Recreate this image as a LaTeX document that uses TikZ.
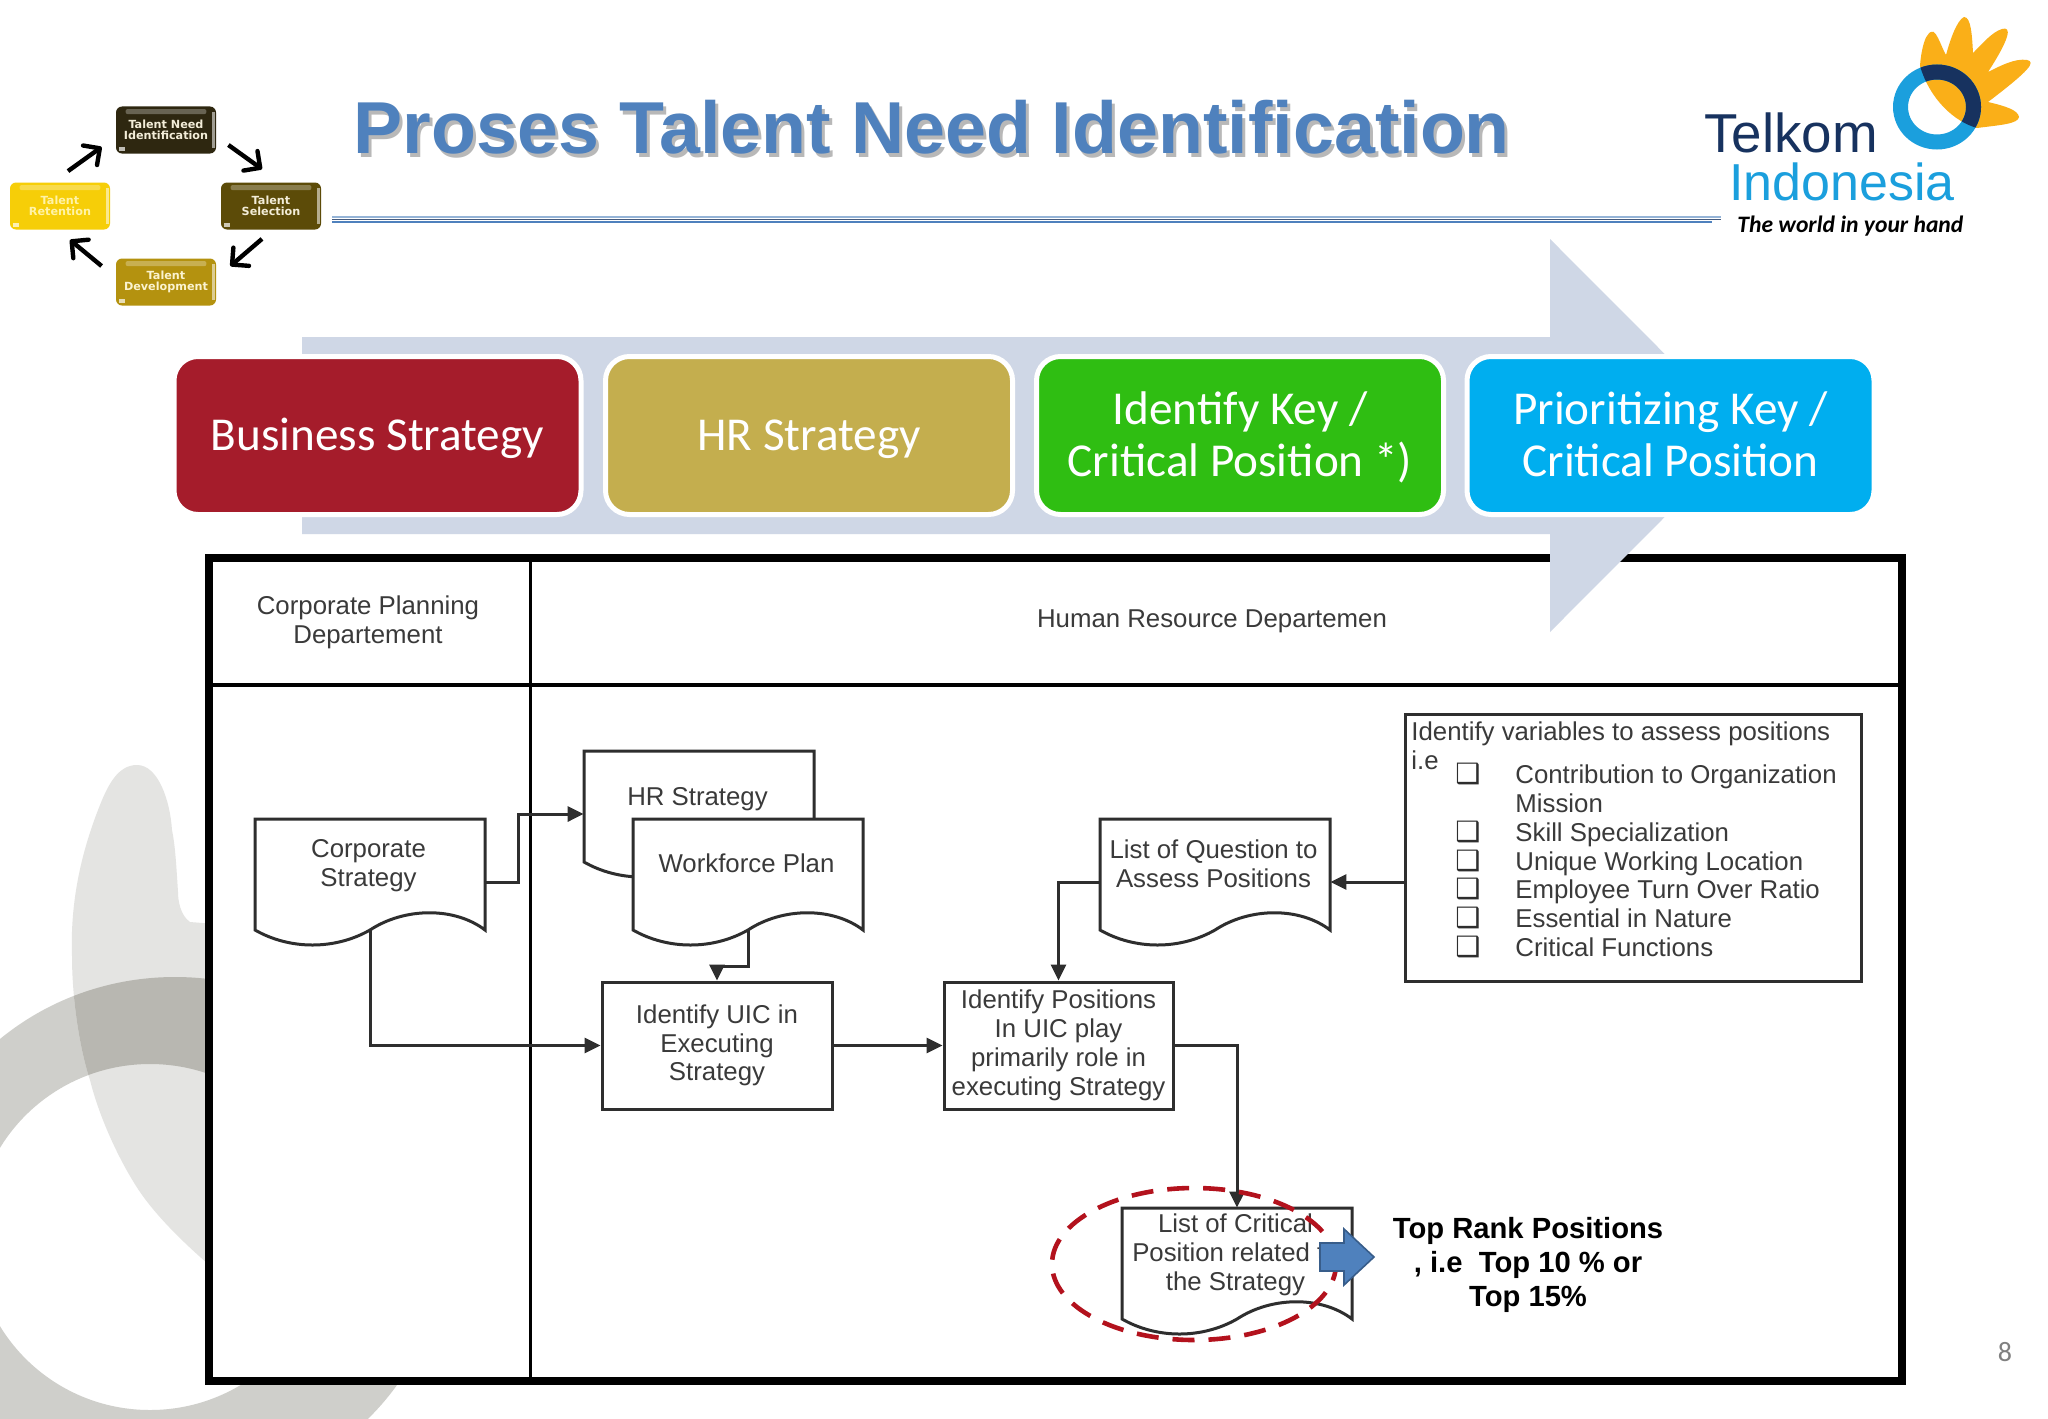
\documentclass[tikz,border=0pt]{standalone}
\usepackage{fontspec}
\usetikzlibrary{arrows.meta,shapes.geometric,calc}
\setmainfont{Liberation Sans}
\newfontfamily\carl{Carlito}
\newfontfamily\dvs{DejaVu Sans}
\newcommand{\sttop}{\rule[-7.8pt]{0pt}{31pt}}
\definecolor{ringgray}{HTML}{CFCFCB}
\definecolor{blobgray}{HTML}{E4E4E2}
\definecolor{overgray}{HTML}{B8B7B1}
\definecolor{arrowfill}{HTML}{CFD7E6}
\definecolor{titleblue}{HTML}{4F81BD}
\definecolor{inktext}{HTML}{3A3A3A}
\definecolor{inkline}{HTML}{2E2E2E}
\definecolor{sunorange}{HTML}{FAAF18}
\definecolor{ringblue}{HTML}{1B9FDD}
\definecolor{ringnavy}{HTML}{17325F}
\definecolor{cneed}{HTML}{2E2710}
\definecolor{csel}{HTML}{5C4B08}
\definecolor{cdev}{HTML}{B4920F}
\definecolor{cret}{HTML}{F6CE08}
\definecolor{tdark}{HTML}{F3EDD8}
\definecolor{tdev}{HTML}{FBF3CF}
\definecolor{tret}{HTML}{FFF3A8}
\definecolor{cs1}{HTML}{A51C2B}
\definecolor{cs2}{HTML}{C4AE4E}
\definecolor{cs3}{HTML}{2FBE12}
\definecolor{cs4}{HTML}{00AEEF}
\definecolor{hlred}{HTML}{B3121D}
\definecolor{bfill}{HTML}{4F81BD}
\definecolor{bedge}{HTML}{385D8A}
\tikzset{
  x=0.5pt,y=-0.5pt,
  flow/.style={draw=inkline,line width=1.5pt,-{Triangle[length=8pt,width=7.5pt]}},
  plainbox/.style={draw=inkline,line width=1.5pt,fill=white,inner sep=0pt,align=center,text=inktext,font=\fontsize{12.9}{14.4}\selectfont},
  diagtext/.style={inner sep=0pt,align=center,text=inktext,font=\fontsize{12.9}{14.4}\selectfont},
  listtext/.style={inner sep=0pt,anchor=base west,text=inktext,font=\fontsize{12.9}{14.4}\selectfont},
  checkmark/.style={inner sep=0pt,anchor=base,text=inkline,font=\dvs\fontsize{14}{14}\selectfont},
  stage/.style={rounded corners=12pt,draw=white,line width=2.5pt,inner sep=0pt,minimum width=203.5pt,minimum height=79pt,align=center,text=white,font=\carl\fontsize{23.6}{26}\selectfont},
  cyc/.style={line width=2.2pt,black,-{Straight Barb[length=6pt,width=12pt,round]}},
  mini/.style={rounded corners=3pt,inner sep=0pt,minimum width=50pt,minimum height=23.5pt,align=center,font=\dvs\bfseries\fontsize{5.6}{6}\selectfont},
}
% name, left, top, text offset, text
\newcommand{\docnode}[5]{%
  \begin{scope}[shift={(#2,#3)}]
    \draw[draw=inkline,line width=1.5pt,fill=white,line join=miter]
      (0,0) -- (230,0) -- (230,111)
      .. controls (200,88) and (150,88) .. (115,111)
      .. controls (80,131) and (35,131) .. (0,111) -- cycle;
    \node[minimum width=115pt,minimum height=63pt,inner sep=0pt] (#1) at (115,63) {};
    \coordinate (#1-out) at (115,111);
    \node[diagtext] (#1-t) at (113.5,#4) {#5};
  \end{scope}}
\newcommand{\minibox}[6]{%
  \node[mini,fill=#4,text=#5] (#1) at (#2,#3) {#6};
  \fill[white,opacity=.28,rounded corners=1pt] ([xshift=5pt,yshift=-1.5pt]#1.north west) rectangle ([xshift=-5pt,yshift=-4pt]#1.north east);
  \fill[white,opacity=.55] ([xshift=-2pt,yshift=-3pt]#1.north east) rectangle ([xshift=-.6pt,yshift=3pt]#1.south east);
  \fill[white,opacity=.7] ([xshift=1.5pt,yshift=1.5pt]#1.south west) rectangle ([xshift=4.5pt,yshift=3.5pt]#1.south west);
}
\begin{document}
\begin{tikzpicture}
\useasboundingbox (0,0) rectangle (2048,1418);
\fill[white] (0,0) rectangle (2048,1418);
% background artwork
\begin{scope}
  \clip (0,0) rectangle (2048,1418);
  \fill[ringgray,even odd rule] (175,1237) ellipse [x radius=270,y radius=260] (150,1237) ellipse [x radius=175,y radius=173];
  \def\blobpath{(137,765) .. controls (118,765) and (108,785) .. (100,805)
    .. controls (82,850) and (70,900) .. (72,956)
    .. controls (72,1000) and (80,1050) .. (90,1080)
    .. controls (100,1120) and (120,1160) .. (133,1181)
    .. controls (150,1210) and (180,1240) .. (215,1270)
    -- (215,924) -- (190,922)
    .. controls (180,915) and (178,900) .. (178,892)
    .. controls (176,860) and (175,845) .. (172,830)
    .. controls (170,800) and (158,765) .. (137,765) -- cycle}
  \fill[blobgray] \blobpath;
  \begin{scope}
    \clip \blobpath;
    \fill[overgray,even odd rule] (175,1237) ellipse [x radius=270,y radius=260] (150,1237) ellipse [x radius=175,y radius=173];
  \end{scope}
\end{scope}
% title
\node[anchor=base west,inner sep=0pt,text=black!28,font=\bfseries\fontsize{36.8}{40}\selectfont] at (356.5,157) {Proses Talent Need Identification};
\node[anchor=base west,inner sep=0pt,text=titleblue,font=\bfseries\fontsize{36.8}{40}\selectfont] (title) at (353.5,154) {Proses Talent Need Identification};
\draw[titleblue!60,line width=1pt] (332,217) -- (1721,217);
\draw[ringnavy!80,line width=.8pt] (332,219.5) -- (1721,219.5);
\draw[titleblue,line width=.8pt] (332,222) -- (1712,222);
% logo
\def\sunpath{(1920,66) .. controls (1921,50) and (1925,38) .. (1927,36)
  .. controls (1932,28) and (1935,32) .. (1938,38)
  .. controls (1941,44) and (1944,52) .. (1946,55)
  .. controls (1950,40) and (1957,20) .. (1964,17)
  .. controls (1971,17) and (1972,35) .. (1973,53)
  .. controls (1982,44) and (1992,32) .. (2002,29)
  .. controls (2012,26) and (2010,38) .. (1988,72)
  .. controls (2000,66) and (2015,58) .. (2027,60)
  .. controls (2036,62) and (2030,70) .. (1988,102)
  .. controls (2005,106) and (2018,110) .. (2019,117)
  .. controls (2018,124) and (2000,125) .. (1977,128)
  .. controls (1955,122) and (1930,100) .. (1920,66) -- cycle}
\fill[sunorange] \sunpath;
\draw[ringblue,line width=7.5pt] (1937,107) ellipse [x radius=36.5,y radius=35];
\begin{scope}
  \clip \sunpath;
  \draw[ringnavy,line width=7.5pt] (1937,107) ellipse [x radius=36.5,y radius=35];
\end{scope}
\node[anchor=base west,inner sep=0pt,text=ringnavy,font=\fontsize{27.4}{28}\selectfont] (telkom) at (1704,152) {Telkom};
\node[anchor=base west,inner sep=0pt,text=ringblue,font=\fontsize{26}{28}\selectfont] (indo) at (1729,200) {Indonesia};
\node[anchor=base west,inner sep=0pt,text=black,font=\carl\bfseries\itshape\fontsize{11.8}{13}\selectfont] (world) at (1737,232) {The world in your hand};
% mini cycle
\minibox{need}{166}{130}{cneed}{tdark}{Talent Need\\[-.4pt]Identification}
\minibox{sel}{271}{206}{csel}{tdark}{Talent\\[-.4pt]Selection}
\minibox{dev}{166}{282}{cdev}{tdev}{Talent\\[-.4pt]Development}
\minibox{ret}{60}{206}{cret}{tret}{Talent\\[-.4pt]Retention}
\draw[cyc] ([xshift=4pt,yshift=5.5pt]ret.north) -- ([xshift=-7pt,yshift=-8.5pt]need.west);
\draw[cyc] ([xshift=6pt,yshift=-7.5pt]need.east) -- ([xshift=-4.5pt,yshift=6.5pt]sel.north);
\draw[cyc] ([xshift=-4.5pt,yshift=-4.5pt]sel.south) -- ([xshift=7pt,yshift=8pt]dev.east);
\draw[cyc] ([xshift=-7pt,yshift=8pt]dev.west) -- ([xshift=5pt,yshift=-5pt]ret.south);
% swimlane frame
\draw[black,line width=4pt,fill=white] (209,558) rectangle (1902,1381);
\draw[black,line width=1.5pt] (530,558) -- (530,1381);
\draw[black,line width=2pt] (209,685) -- (1902,685);
% big arrow
\fill[arrowfill] (302,337) -- (1550,337) -- (1550,239) -- (1746,435.5) -- (1550,632) -- (1550,534) -- (302,534) -- cycle;
% stages
\node[stage,fill=cs1] (s1) at (377.5,435.5) {\sttop Business Strategy};
\node[stage,fill=cs2] (s2) at (809,435.5) {\sttop HR Strategy};
\node[stage,fill=cs3] (s3) at (1240,435.5) {\sttop Identify Key /\\\strut Critical Position *)};
\node[stage,fill=cs4] (s4) at (1670.5,435.5) {\sttop Prioritizing Key /\\\strut Critical Position};
% lane titles
\node[diagtext] (lane1) at (368,622) {Corporate Planning\\Departement};
\node[diagtext] (lane2) at (1212,621) {Human Resource Departemen};
% documents
\docnode{corp}{255}{819}{47}{Corporate\\Strategy}
\docnode{hrs}{584}{751}{48}{HR Strategy}
\docnode{wf}{633}{819}{44}{Workforce Plan}
\docnode{ques}{1100}{819}{45}{List of Question to\\Assess Positions}
\docnode{crit}{1122}{1208}{47}{List of Critical\\Position related to\\the Strategy}
% process boxes
\node[plainbox,minimum width=115pt,minimum height=63.5pt] (uic) at (717,1045.5) {Identify UIC in\\Executing\\Strategy};
\node[plainbox,minimum width=114.5pt,minimum height=63.5pt] (pos) at (1058.5,1045.5) {Identify Positions\\In UIC play\\primarily role in\\executing Strategy};
\node[draw=inkline,line width=1.5pt,fill=white,inner sep=0pt,minimum width=228pt,minimum height=133.5pt] (vars) at (1633,847.5) {};
\node[listtext] (v0) at (1411,740) {Identify variables to assess positions};
\node[listtext] (v00) at (1411,769) {i.e};
\node[checkmark] (c1) at (1468,783) {❑};
\node[listtext] (v1) at (1515,783) {Contribution to Organization};
\node[listtext] (v1b) at (1515,812) {Mission};
\node[checkmark] (c2) at (1468,841) {❑};
\node[listtext] (v2) at (1515,841) {Skill Specialization};
\node[checkmark] (c3) at (1468,870) {❑};
\node[listtext] (v3) at (1515,870) {Unique Working Location};
\node[checkmark] (c4) at (1468,898) {❑};
\node[listtext] (v4) at (1515,898) {Employee Turn Over Ratio};
\node[checkmark] (c5) at (1468,927) {❑};
\node[listtext] (v5) at (1515,927) {Essential in Nature};
\node[checkmark] (c6) at (1468,956) {❑};
\node[listtext] (v6) at (1515,956) {Critical Functions};
% connectors
\draw[flow] (corp.east) -- (518,882) |- (hrs.west);
\draw[flow] (corp-out) |- (uic.west);
\draw[flow] (wf-out) -- (748,966) -| (uic.north);
\draw[flow] (uic.east) -- (pos.west);
\draw[flow] (vars.west |- ques.east) -- (ques.east);
\draw[flow] (ques.west) -| (pos.north);
\draw[flow] (pos.east) -| (crit.north);
% highlight
\node[draw=hlred,line width=2.3pt,dash pattern=on 11pt off 7pt,ellipse,inner sep=0pt,minimum width=142pt,minimum height=76pt] (hl) at (1194,1264) {};
\draw[draw=bedge,line width=.8pt,fill=bfill] (1320,1243) -- (1344,1243) -- (1344,1229) -- (1374,1257) -- (1344,1285) -- (1344,1271) -- (1320,1271) -- cycle;
\node[inner sep=0pt,align=center,text=black,font=\bfseries\fontsize{14.6}{17.2}\selectfont] (toprank) at (1528,1265) {Top Rank Positions\\, i.e\ \ Top 10 \% or\\Top 15\%};
\node[inner sep=0pt,text=black!50,font=\carl\fontsize{14}{16}\selectfont] (pagenum) at (2005,1352) {8};
\end{tikzpicture}
\end{document}
